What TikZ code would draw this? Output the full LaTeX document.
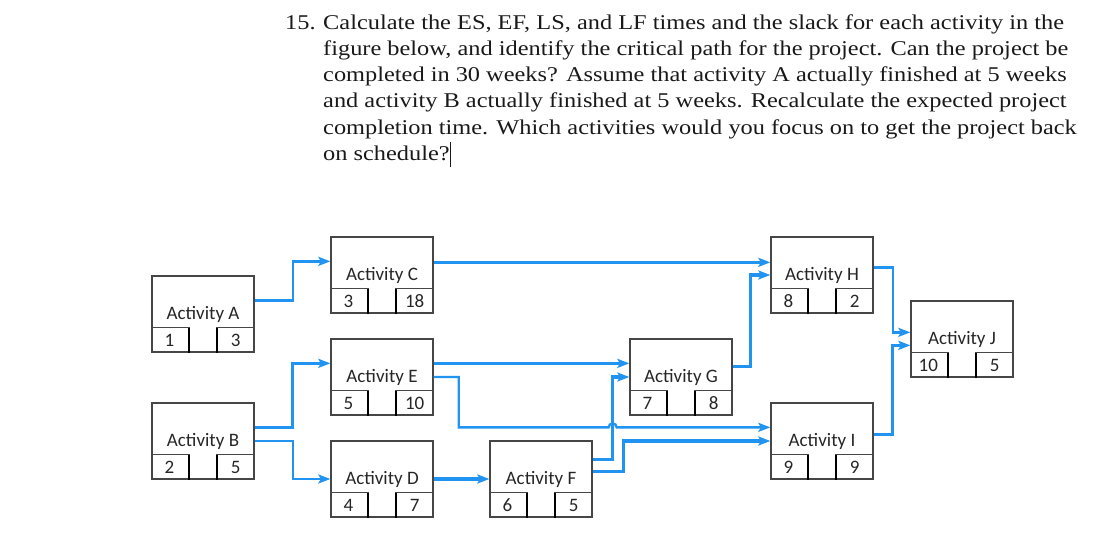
\documentclass[tikz,border=0pt]{standalone}
\usepackage{fontspec}
\setmainfont{Liberation Serif}[FakeStretch=1.16]
\newfontfamily\boxfont{Carlito}
\usepackage{xcolor}
\usepackage{tikz}
\usetikzlibrary{arrows.meta,positioning,calc}

\definecolor{flowblue}{RGB}{32,148,240}
\definecolor{boxgray}{RGB}{70,70,70}

\tikzset{
  actbox/.style={draw=boxgray,line width=1.3pt,minimum width=102pt,minimum height=76pt,
    inner sep=0pt,font=\boxfont\fontsize{19}{21}\selectfont,text=black!85},
  cellline/.style={draw=boxgray,line width=1.3pt},
  celltick/.style={draw=black,line width=2pt},
  cellnum/.style={font=\boxfont\fontsize{19}{21}\selectfont,text=black!85},
  flow/.style={->,draw=flowblue,line width=2.3pt},
  flowbold/.style={flow,line width=3.2pt},
  qline/.style={anchor=base west,inner sep=0pt,font=\fontsize{21}{24}\selectfont,text=black!90}
}

\begin{document}
\begin{tikzpicture}[x=1pt,y=-1pt,>={Stealth[length=12pt,width=9pt,inset=2.5pt]}]
  \useasboundingbox (0,0) rectangle (1101,536);

  % question text
  \node[qline] (num) at (285,29) {15.};
  \node[qline] (l1) at (323,29) {Calculate the ES, EF, LS, and LF times and the slack for each activity in the};
  \node[qline] (l2) at (323,55.3) {figure below, and identify the critical path for the project. Can the project be};
  \node[qline] (l3) at (323,81.6) {completed in 30 weeks? Assume that activity A actually finished at 5 weeks};
  \node[qline] (l4) at (323,107.9) {and activity B actually finished at 5 weeks. Recalculate the expected project};
  \node[qline] (l5) at (323,134.2) {completion time. Which activities would you focus on to get the project back};
  \node[qline] (l6) at (323,160.5) {on schedule?\rule[-6pt]{0.8pt}{25pt}};

  % activity boxes
  \foreach \n/\x/\y/\es/\du in {A/203/314/1/3, B/203/441/2/5, C/382/275/3/18, E/382/377/5/10,
      D/382/479/4/7, F/541/479/6/5, G/681/377/7/8, H/822/275/8/2, I/822/441/9/9, J/962/339/10/5}{
    \node[actbox] (\n) at (\x,\y) {Activity \n};
    \draw[cellline] (\n.south west) rectangle ++(38,-25);
    \draw[cellline] (\n.south east) rectangle ++(-38,-25);
    \draw[celltick] ([xshift=38pt]\n.south west) -- ++(0,-25);
    \draw[celltick] ([xshift=-38pt]\n.south east) -- ++(0,-25);
    \node[cellnum] at ([xshift=18pt,yshift=12.5pt]\n.south west) {\es};
    \node[cellnum] at ([xshift=-19pt,yshift=12.5pt]\n.south east) {\du};
  }

  % helper points
  \coordinate (fg) at ([xshift=20pt]F.east);
  \coordinate (ie) at ([yshift=-25pt]I.north west);

  % connectors
  \draw[flow] ([yshift=-25pt]A.north east) -- ++(38,0) |- ([yshift=-25pt]C.north west);
  \draw[flowbold] ([yshift=-26pt]C.north east) -- ([yshift=-26pt]H.north west);
  \draw[flowbold] ([yshift=-25pt]B.north east) -- ++(38,0) |- ([yshift=-25pt]E.north west);
  \draw[flow] (B.east) -- ++(38,0) |- (D.west);
  \draw[flowbold] ([yshift=-25pt]E.north east) -- ([yshift=-25pt]G.north west);
  \draw[flow] (E.east) -- ++(25,0) |- ([xshift=-4pt]fg |- ie)
    arc[start angle=180,end angle=0,radius=4pt] -- (ie);
  \draw[flowbold] (D.east) -- (F.west);
  \draw[flowbold] ([yshift=-19pt]F.north east) -| (fg |- G.west) -- (G.west);
  \draw[flowbold] ([yshift=-31pt]F.north east) -- ++(31,0) |- (I.west);
  \draw[flowbold] ([yshift=-28pt]G.north east) -- ++(18,0) |- (H.west);
  \draw[flow] ([yshift=-31pt]H.north east) -- ++(19,0) |- ([yshift=-32pt]J.north west);
  \draw[flowbold] ([yshift=-32pt]I.north east) -- ++(19,0) |- ([yshift=-45pt]J.north west);
\end{tikzpicture}
\end{document}
